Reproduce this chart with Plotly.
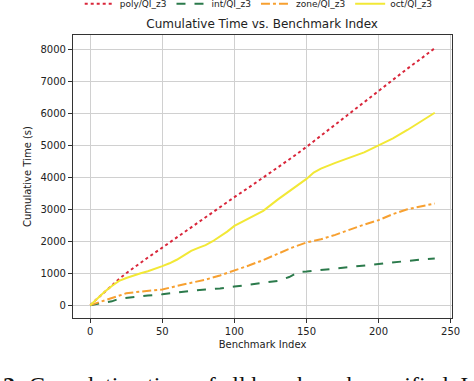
import plotly.graph_objects as go

poly_x = [0, 10, 20, 25, 30, 40, 50, 60, 70, 80, 90, 100, 110, 120, 130, 140, 150,
          160, 170, 180, 190, 200, 210, 220, 230, 239]
poly_y = [0, 420, 820, 1000, 1170, 1490, 1800, 2120, 2440, 2750, 3060, 3380, 3680, 3990,
          4300, 4620, 4950, 5300, 5650, 6000, 6360, 6720, 7060, 7400, 7730, 8040]

int_x = [0, 10, 15, 20, 25, 30, 40, 50, 60, 70, 80, 90, 100, 110, 120, 130, 138, 142,
         145, 150, 160, 170, 180, 190, 200, 210, 220, 230, 239]
int_y = [0, 70, 120, 200, 230, 260, 300, 340, 400, 450, 490, 520, 580, 640, 700, 760,
         880, 980, 1040, 1050, 1100, 1140, 1180, 1230, 1280, 1330, 1380, 1430, 1460]

zone_x = [0, 10, 20, 25, 30, 40, 50, 60, 70, 80, 90, 100, 110, 120, 130, 140, 150, 160,
          170, 180, 190, 200, 210, 220, 230, 239]
zone_y = [0, 150, 300, 370, 400, 440, 490, 600, 700, 800, 930, 1080, 1240, 1410, 1600,
          1800, 1960, 2060, 2200, 2370, 2520, 2660, 2850, 3000, 3100, 3180]

oct_x = [0, 5, 10, 15, 20, 25, 30, 35, 40, 45, 50, 55, 60, 65, 70, 75, 80, 85, 90, 95,
         100, 105, 110, 120, 130, 140, 150, 155, 160, 170, 180, 190, 200, 210, 220, 230, 239]
oct_y = [0, 220, 420, 600, 760, 850, 930, 1000, 1060, 1130, 1220, 1310, 1420, 1560, 1700,
         1790, 1880, 2000, 2150, 2300, 2480, 2600, 2700, 2950, 3300, 3620, 3950, 4150,
         4270, 4450, 4620, 4780, 5000, 5220, 5480, 5760, 6020]

x_ticks = [0, 50, 100, 150, 200, 250]
y_ticks = [0, 1000, 2000, 3000, 4000, 5000, 6000, 7000, 8000]

caption_text = "<b>2:</b> Cumulative time of all benchmarks verified. I"

FONT = "DejaVu Sans"

fig = go.Figure()
fig.add_trace(go.Scatter(x=poly_x, y=poly_y, mode="lines", name="poly/QI_z3",
                         line=dict(color="#d9263a", width=2, dash="dot")))
fig.add_trace(go.Scatter(x=int_x, y=int_y, mode="lines", name="int/QI_z3",
                         line=dict(color="#2b7a4b", width=2, dash="dash")))
fig.add_trace(go.Scatter(x=zone_x, y=zone_y, mode="lines", name="zone/QI_z3",
                         line=dict(color="#f7a030", width=2, dash="dashdot")))
fig.add_trace(go.Scatter(x=oct_x, y=oct_y, mode="lines", name="oct/QI_z3",
                         line=dict(color="#f2e836", width=2, dash="solid")))

axis_common = dict(
    showgrid=True, gridcolor="#d0d0d0", gridwidth=1,
    showline=True, linecolor="#333333", linewidth=1.2, mirror=True,
    ticks="outside", ticklen=4, tickcolor="#333333",
    tickfont=dict(family=FONT, size=10, color="#222222"),
    zeroline=False,
)

fig.update_layout(
    width=474, height=381,
    paper_bgcolor="white", plot_bgcolor="white",
    margin=dict(l=73, r=22, t=35, b=63, autoexpand=False),
    title=dict(text="Cumulative Time vs. Benchmark Index", x=0.553, xanchor="center",
               y=1 - 24 / 381, yanchor="middle",
               font=dict(family=FONT, size=12, color="#222222")),
    xaxis=dict(range=[-11.95, 250.95], tickvals=x_ticks,
               title=dict(text="Benchmark Index", standoff=4,
                          font=dict(family=FONT, size=10, color="#222222")),
               **axis_common),
    yaxis=dict(range=[-402, 8452], tickvals=y_ticks,
               title=dict(text="Cumulative Time (s)", standoff=6,
                          font=dict(family=FONT, size=10, color="#222222")),
               **axis_common),
    legend=dict(orientation="h", x=0.49, xanchor="center", y=1.11, yanchor="middle",
                font=dict(family=FONT, size=9, color="#222222"),
                bgcolor="rgba(0,0,0,0)", itemwidth=30, tracegroupgap=0),
    showlegend=True,
)

fig.add_annotation(
    text=caption_text,
    xref="paper", yref="paper", x=-0.19, y=-0.2385, xanchor="left", yanchor="middle",
    showarrow=False, font=dict(family="Liberation Serif", size=24, color="#111111"),
)

fig.write_html("out.html", config={"displayModeBar": False},
               post_script="document.body.style.margin='0';document.body.style.padding='0';")
